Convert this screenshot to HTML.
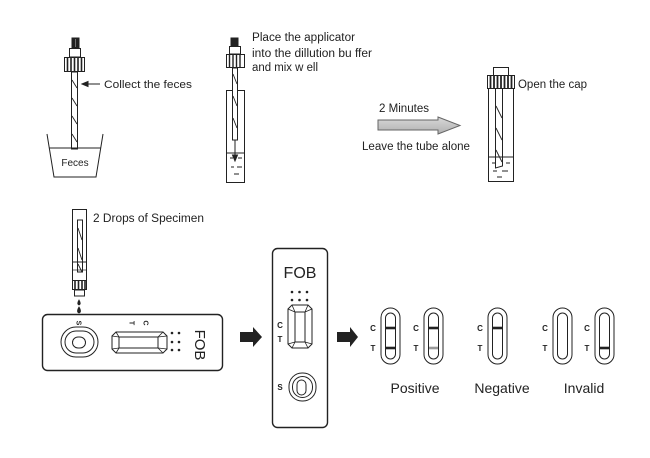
<!DOCTYPE html>
<html><head><meta charset="utf-8"><style>
html,body{margin:0;padding:0;background:#fff;}
svg{display:block;}
text{font-family:"Liberation Sans",Arial,sans-serif;fill:#222;}
</style></head><body>
<svg width="650" height="458" viewBox="0 0 650 458" xmlns="http://www.w3.org/2000/svg">
<defs>
<linearGradient id="ga" x1="0" y1="0" x2="0" y2="1">
<stop offset="0" stop-color="#d8d8d8"/><stop offset="1" stop-color="#b0b0b0"/>
</linearGradient>
</defs>
<g stroke="#222" stroke-width="1" fill="none">
<!-- Device 1 -->
<rect x="72" y="38" width="7" height="10" fill="#222"/>
<line x1="75.5" y1="39" x2="75.5" y2="47" stroke="#888" stroke-width="0.8"/>
<rect x="69.5" y="48.5" width="11" height="8.5" fill="#fff"/>
<rect x="64.5" y="57.5" width="20" height="14" fill="#fff"/>
<g stroke-width="1.6"><line x1="67.5" y1="58" x2="67.5" y2="71"/><line x1="71" y1="58" x2="71" y2="71"/><line x1="74.5" y1="58" x2="74.5" y2="71"/><line x1="78" y1="58" x2="78" y2="71"/><line x1="81.5" y1="58" x2="81.5" y2="71"/></g>
<rect x="71.5" y="72" width="6" height="77" fill="#fff"/>
<path d="M72 80 L77 88 M72 98 L77 106 M72 116 L77 124 M72 134 L77 142" stroke-width="0.9"/>
<path d="M47 134 L54 177 L96 177 L103 134"/>
<line x1="49" y1="148" x2="101" y2="148"/>
<line x1="84" y1="84" x2="100" y2="84"/>
<polygon points="82,84 88,81.5 88,86.5" fill="#222"/>
<!-- Device 2 -->
<rect x="231" y="38" width="7" height="8" fill="#222"/>
<rect x="229.5" y="46.5" width="11" height="7.5" fill="#fff"/>
<rect x="226.5" y="54.5" width="18" height="13" fill="#fff"/>
<g stroke-width="1.4"><line x1="229.5" y1="55" x2="229.5" y2="67"/><line x1="233" y1="55" x2="233" y2="67"/><line x1="236.5" y1="55" x2="236.5" y2="67"/><line x1="240" y1="55" x2="240" y2="67"/></g>
<rect x="226.5" y="90.5" width="18" height="92"/>
<rect x="232.5" y="68" width="5" height="72" fill="#fff"/>
<path d="M233 74 L237 84 M233 96 L237 106 M233 118 L237 128" stroke-width="0.9"/>
<line x1="235" y1="140" x2="235" y2="158"/>
<polygon points="235,161 232.5,155 237.5,155" fill="#222"/>
<line x1="227" y1="153" x2="244" y2="153"/>
<path d="M230 158 L233 158 M238 158 L242 158 M231 167 L234 167 M237 167 L242 167 M234 174 L239 174" stroke-width="0.9"/>
<!-- Gray arrow -->
<polygon points="378,120 438,120 438,117 460,125.5 438,134 438,130 378,130" fill="url(#ga)" stroke="#666"/>
<!-- Device 3 -->
<rect x="493.5" y="67.5" width="15" height="8" fill="#fff"/>
<rect x="487.5" y="75.5" width="27" height="13" fill="#fff"/>
<g stroke-width="1.8"><line x1="490.5" y1="76" x2="490.5" y2="88"/><line x1="494" y1="76" x2="494" y2="88"/><line x1="497.5" y1="76" x2="497.5" y2="88"/><line x1="501" y1="76" x2="501" y2="88"/><line x1="504.5" y1="76" x2="504.5" y2="88"/><line x1="508" y1="76" x2="508" y2="88"/><line x1="511.5" y1="76" x2="511.5" y2="88"/></g>
<rect x="488.5" y="88.5" width="25" height="93"/>
<path d="M495.5 89 L495.5 168 L502.5 166 L502.5 89" fill="#fff"/>
<path d="M496 106 L502 118 M496 128 L502 140 M496 150 L502 162" stroke-width="0.9"/>
<line x1="489" y1="157" x2="513" y2="157"/>
<path d="M492 163 L496 163 M506 163 L510 163 M493 171 L497 171 M502 171 L508 171 M497 177 L502 177" stroke-width="0.9"/>
<!-- Dropper -->
<rect x="72.5" y="209.5" width="14" height="71"/>
<rect x="77.5" y="220" width="5" height="52" fill="#fff"/>
<path d="M78 228 L82 240 M78 248 L82 260 M78 264 L82 272" stroke-width="0.9"/>
<line x1="73" y1="262" x2="86" y2="262"/>
<line x1="73" y1="270" x2="86" y2="270" stroke-width="0.7"/>
<rect x="72.5" y="280.5" width="14" height="9" fill="#fff"/>
<g stroke-width="1.6"><line x1="75" y1="281" x2="75" y2="289"/><line x1="78.5" y1="281" x2="78.5" y2="289"/><line x1="82" y1="281" x2="82" y2="289"/><line x1="85" y1="281" x2="85" y2="289"/></g>
<rect x="74.5" y="290" width="10" height="6" fill="#fff"/>
<path d="M79 300 Q81.5 304 79 305 Q76.5 304 79 300 Z" fill="#222" stroke-width="0.8"/>
<path d="M79 307 Q82 312 79 313 Q76 312 79 307 Z" fill="#222" stroke-width="0.8"/>
<!-- Horizontal cassette -->
<rect x="42.5" y="314.5" width="180" height="56" rx="5" stroke-width="1.4"/>
<rect x="61" y="327" width="37" height="30" rx="15"/>
<rect x="65" y="331" width="29" height="22" rx="11"/>
<rect x="72.5" y="337" width="13" height="11" rx="5.5"/>
<path d="M116 332 L163 332 L167 336 L167 349 L163 353 L116 353 L112 349 L112 336 Z"/>
<rect x="119" y="337" width="39" height="11"/>
<path d="M116 332 L119 337 M163 332 L158 337 M116 353 L119 348 M163 353 L158 348 M112 336 L119 337 M167 336 L158 337 M112 349 L119 348 M167 349 L158 348" stroke-width="0.8"/>
<!-- Black arrows -->
<polygon points="240,332 253,332 253,327 262,337 253,347 253,342 240,342" fill="#222" stroke="none"/>
<polygon points="337,332 350,332 350,327 358,337 350,347 350,342 337,342" fill="#222" stroke="none"/>
<!-- Vertical cassette -->
<rect x="272.5" y="248.5" width="55" height="179" rx="5" stroke-width="1.4"/>
<path d="M292 305 L308 305 L312 309 L312 344 L308 348 L292 348 L288 344 L288 309 Z"/>
<rect x="295" y="312" width="10" height="30"/>
<path d="M292 305 L295 312 M308 305 L305 312 M292 348 L295 342 M308 348 L305 342 M288 309 L295 312 M312 309 L305 312 M288 344 L295 342 M312 344 L305 342" stroke-width="0.8"/>
<rect x="289" y="373" width="27" height="28" rx="13"/>
<rect x="292.5" y="376.5" width="20" height="21" rx="10"/>
<rect x="297" y="380" width="9" height="15" rx="4.5"/>
<!-- Result pills -->
<g>
<rect x="381" y="308" width="19" height="56" rx="9.5"/><rect x="385.5" y="313" width="10" height="46" rx="5"/>
<rect x="424" y="308" width="19" height="56" rx="9.5"/><rect x="428.5" y="313" width="10" height="46" rx="5"/>
<rect x="488" y="308" width="19" height="56" rx="9.5"/><rect x="492.5" y="313" width="10" height="46" rx="5"/>
<rect x="553" y="308" width="19" height="56" rx="9.5"/><rect x="557.5" y="313" width="10" height="46" rx="5"/>
<rect x="595" y="308" width="19" height="56" rx="9.5"/><rect x="599.5" y="313" width="10" height="46" rx="5"/>
</g>
<g stroke-width="2.6">
<line x1="386" y1="328" x2="395" y2="328"/><line x1="386" y1="348" x2="395" y2="348"/>
<line x1="429" y1="328" x2="438" y2="328"/><line x1="429" y1="348" x2="438" y2="348" stroke="#999"/>
<line x1="493" y1="328" x2="502" y2="328"/>
<line x1="600" y1="348" x2="609" y2="348"/>
</g>
</g>
<g fill="#222" stroke="none">
<circle cx="172" cy="333" r="1.3"/><circle cx="179" cy="333" r="1.3"/>
<circle cx="172" cy="342" r="1.3"/><circle cx="179" cy="342" r="1.3"/>
<circle cx="172" cy="350" r="1.3"/><circle cx="179" cy="350" r="1.3"/>
<circle cx="292" cy="292" r="1.3"/><circle cx="299.5" cy="292" r="1.3"/><circle cx="307" cy="292" r="1.3"/>
<circle cx="292" cy="300" r="1.3"/><circle cx="299.5" cy="300" r="1.3"/><circle cx="307" cy="300" r="1.3"/>
</g>
<!-- Text -->
<text x="104" y="88" font-size="11" textLength="88" lengthAdjust="spacingAndGlyphs">Collect the feces</text>
<text x="75" y="166" font-size="10" text-anchor="middle">Feces</text>
<text x="252" y="41" font-size="11.5" textLength="103" lengthAdjust="spacingAndGlyphs">Place the applicator</text>
<text x="252" y="57" font-size="11.5" textLength="120" lengthAdjust="spacingAndGlyphs">into the dillution bu ffer</text>
<text x="252" y="71" font-size="11.5" textLength="66" lengthAdjust="spacingAndGlyphs">and mix w ell</text>
<text x="379" y="112" font-size="11.5" textLength="50" lengthAdjust="spacingAndGlyphs">2 Minutes</text>
<text x="362" y="150" font-size="11.5" textLength="108" lengthAdjust="spacingAndGlyphs">Leave the tube alone</text>
<text x="518" y="88" font-size="11.5" textLength="69" lengthAdjust="spacingAndGlyphs">Open the cap</text>
<text x="93" y="222" font-size="11.5" textLength="111" lengthAdjust="spacingAndGlyphs">2 Drops of Specimen</text>
<text x="300" y="278" font-size="16" text-anchor="middle" fill="#1a1a40">FOB</text>
<text transform="translate(195,345) rotate(90)" font-size="15" text-anchor="middle" fill="#1a1a40">FOB</text>
<g font-size="7" font-weight="bold">
<text transform="translate(76.5,323) rotate(90)" text-anchor="middle">S</text>
<text transform="translate(129.5,323) rotate(90)" text-anchor="middle">T</text>
<text transform="translate(143.5,323) rotate(90)" text-anchor="middle">C</text>
</g>
<g font-size="8" font-weight="bold" text-anchor="middle">
<text x="280" y="328">C</text><text x="280" y="342">T</text><text x="280" y="390">S</text>
<text x="373" y="331">C</text><text x="373" y="351">T</text>
<text x="416" y="331">C</text><text x="416" y="351">T</text>
<text x="480" y="331">C</text><text x="480" y="351">T</text>
<text x="545" y="331">C</text><text x="545" y="351">T</text>
<text x="587" y="331">C</text><text x="587" y="351">T</text>
</g>
<g font-size="14" text-anchor="middle">
<text x="415" y="393">Positive</text>
<text x="502" y="393">Negative</text>
<text x="584" y="393">Invalid</text>
</g>
</svg>
</body></html>
